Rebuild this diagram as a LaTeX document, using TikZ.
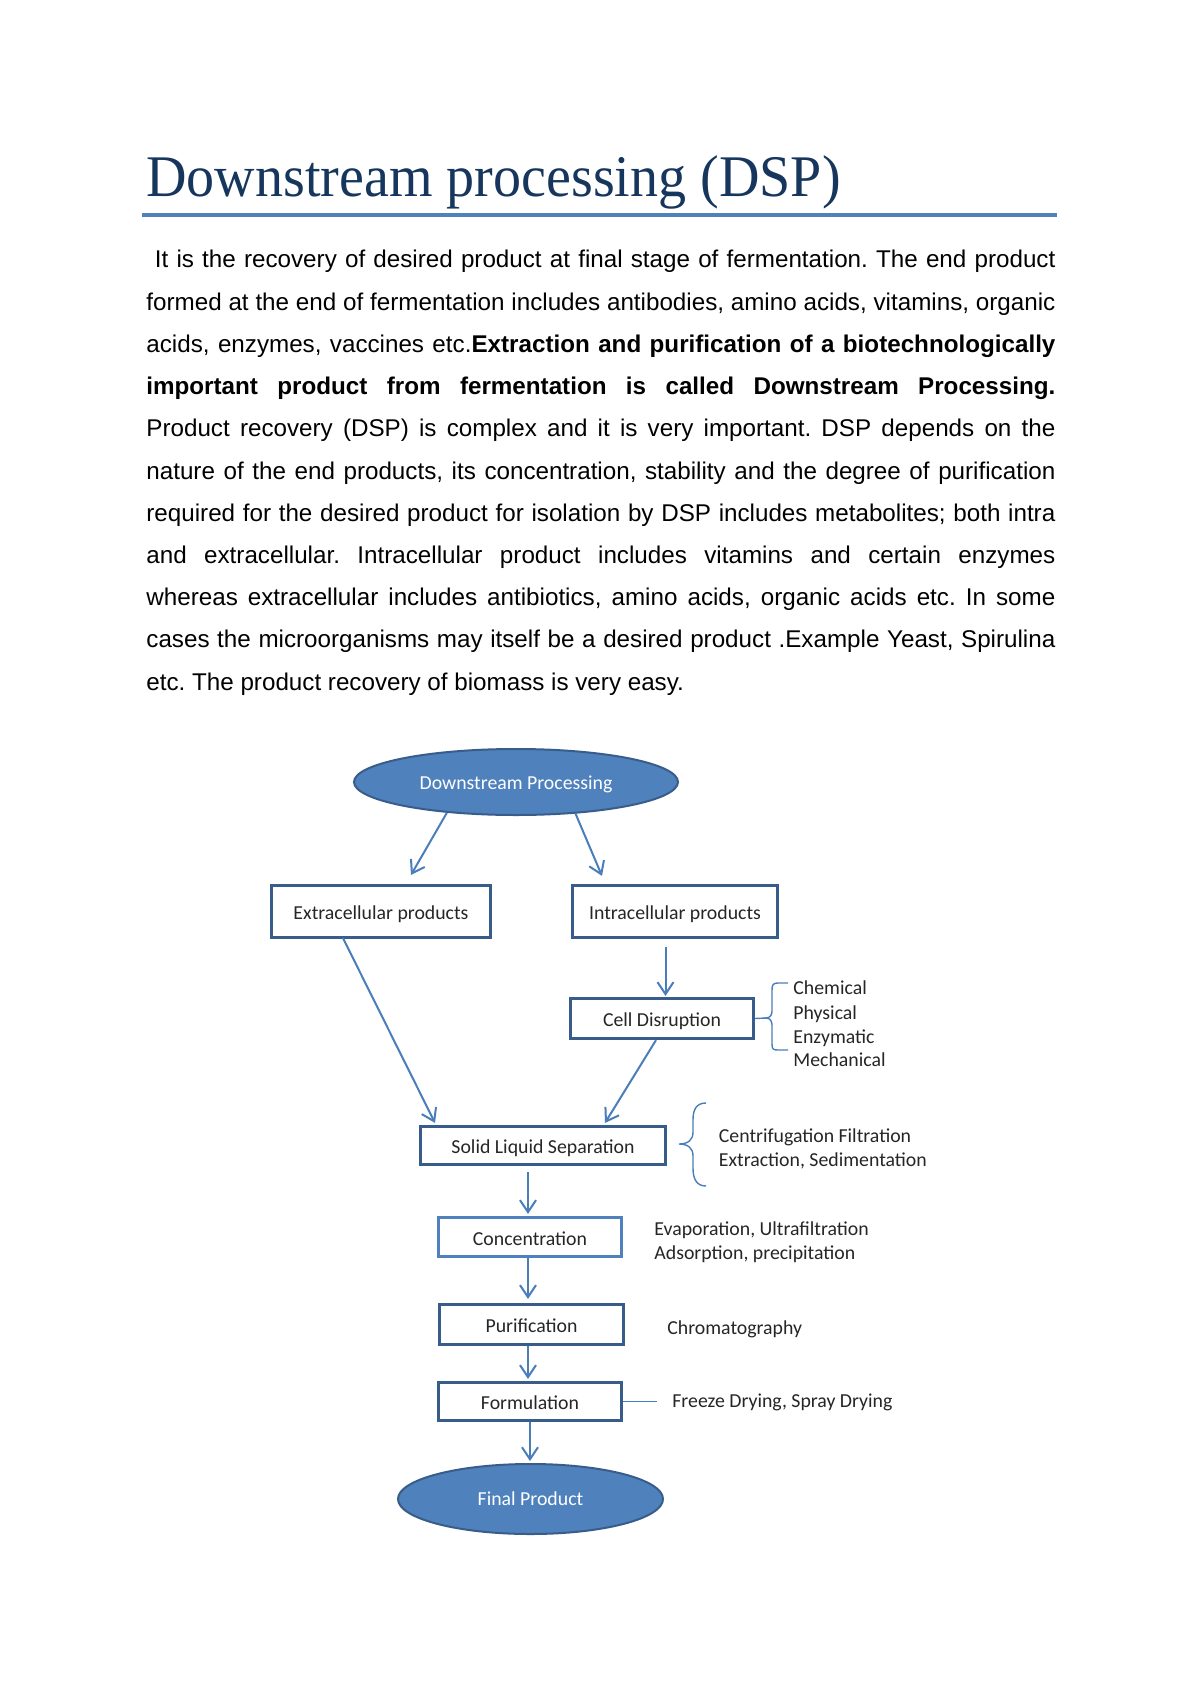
\documentclass[tikz,border=0pt]{standalone}
\usepackage{fontspec}
\usepackage{graphicx}
\setmainfont{Liberation Sans}
\newfontfamily\diagfont{Carlito}
\newfontfamily\headfont{Liberation Serif}
\usetikzlibrary{arrows.meta,calc,shapes.geometric}
\definecolor{headblue}{HTML}{17365D}
\definecolor{accent}{HTML}{4F81BD}
\definecolor{darkedge}{HTML}{385D8A}
\definecolor{conn}{HTML}{4A7EBB}
\definecolor{labelgray}{HTML}{262626}
\frenchspacing
\tikzset{
  para/.style={anchor=base west, inner sep=0pt, font=\fontsize{12.1}{14}\selectfont\frenchspacing},
  boxnode/.style={rectangle, draw=darkedge, line width=1.6pt, fill=white, inner sep=0pt,
    text height=10pt, text depth=2pt,
    font=\diagfont\fontsize{9.9}{12}\selectfont, text=labelgray},
  ovalnode/.style={ellipse, draw=darkedge, line width=1pt, fill=accent, inner sep=0pt,
    text height=9.5pt, text depth=2pt,
    font=\diagfont\fontsize{9.9}{12}\selectfont, text=white},
  arr/.style={draw=conn, line width=1pt, -{Straight Barb[length=6pt,width=8pt]}},
  side/.style={anchor=base west, inner sep=0pt, font=\diagfont\fontsize{9.9}{12}\selectfont, text=labelgray},
  brk/.style={draw=conn, line width=0.7pt}
}
\begin{document}
\begin{tikzpicture}[x=0.5pt,y=-0.5pt]
\fill[white] (0,0) rectangle (1200,1696);
\useasboundingbox (0,0) rectangle (1200,1696);

% heading
\node[anchor=base west, inner sep=0pt, text=headblue, font=\headfont\fontsize{29.5}{30}\selectfont] (title) at (146,197) {\scalebox{0.95}[1]{Downstream processing (DSP)}};
\draw[accent, line width=2pt] (142,215) -- (1057,215);

% paragraph
\node[para] (l1) at (154.5,268) {\makebox[450.25pt][s]{It is the recovery of desired product at final stage of fermentation. The end product}};
\node[para] (l2) at (146,310.2) {\makebox[454.5pt][s]{formed at the end of fermentation includes antibodies, amino acids, vitamins, organic}};
\node[para] (l3) at (146,352.4) {\makebox[454.5pt][s]{acids, enzymes, vaccines etc.\textbf{Extraction and purification of a biotechnologically}}};
\node[para] (l4) at (146,394.6) {\makebox[454.5pt][s]{\textbf{important product from fermentation is called Downstream Processing.}}};
\node[para] (l5) at (146,436.8) {\makebox[454.5pt][s]{Product recovery (DSP) is complex and it is very important. DSP depends on the}};
\node[para] (l6) at (146,479) {\makebox[454.5pt][s]{nature of the end products, its concentration, stability and the degree of purification}};
\node[para] (l7) at (146,521.2) {\makebox[454.5pt][s]{required for the desired product for isolation by DSP includes metabolites; both intra}};
\node[para] (l8) at (146,563.4) {\makebox[454.5pt][s]{and extracellular. Intracellular product includes vitamins and certain enzymes}};
\node[para] (l9) at (146,605.6) {\makebox[454.5pt][s]{whereas extracellular includes antibiotics, amino acids, organic acids etc. In some}};
\node[para] (l10) at (146,647.8) {\makebox[454.5pt][s]{cases the microorganisms may itself be a desired product .Example Yeast, Spirulina}};
\node[para] (l11) at (146,690) {etc. The product recovery of biomass is very easy.};

% diagram nodes
\node[ovalnode, minimum width=162pt, minimum height=33pt] (top) at (516,782) {Downstream Processing};
\node[boxnode, minimum width=109.5pt, minimum height=26pt] (extra) at (381,911.5) {Extracellular products};
\node[boxnode, minimum width=102.5pt, minimum height=26pt] (intra) at (675,911.5) {Intracellular products};
\node[boxnode, minimum width=91.5pt, minimum height=20pt] (cell) at (662,1018.5) {Cell Disruption};
\node[boxnode, minimum width=122.5pt, minimum height=19pt] (solid) at (543,1145.5) {Solid Liquid Separation};
\node[boxnode, draw=accent, minimum width=91.5pt, minimum height=19.5pt] (conc) at (530,1237) {Concentration};
\node[boxnode, minimum width=92pt, minimum height=20pt] (puri) at (531.5,1324.5) {Purification};
\node[boxnode, minimum width=91.5pt, minimum height=19pt] (form) at (530,1401.5) {Formulation};
\node[ovalnode, text height=8pt, minimum width=132.5pt, minimum height=35pt] (final) at (530.5,1499) {Final Product};

% connectors
\draw[arr] (top.204) -- ($(extra.north)+(30,-9)$);
\draw[arr] (top.332) -- ($(intra.north)+(-73,-8)$);
\draw[arr] ($(intra.south)+(-9.5,8)$) -- ($(cell.north)+(3.5,-1)$);
\draw[arr] ($(extra.south)+(-38,-1)$) -- ($(solid.north)+(-108,-2)$);
\draw[arr] ($(cell.south)+(-6,0)$) -- ($(solid.north)+(62,-2)$);
\draw[arr] ($(solid.south)+(-15,6)$) -- ($(conc.north)+(-2,-2)$);
\draw[arr] ($(conc.south)+(-2,0)$) -- ($(puri.north)+(-3.5,-4)$);
\draw[arr] ($(puri.south)+(-3.5,0)$) -- ($(form.north)+(-2,-2)$);
\draw[arr] (form.south) -- ($(final.north)+(-0.5,-2)$);

% cell disruption bracket
\coordinate (cbp) at (766,1018);
\draw[brk] (cell.east) -- (cbp);
\draw[brk] (788,983) -- (778,983) .. controls (773,983) and (772,985) .. (772,990) -- (772,1011)
  .. controls (772,1015) and (770,1018) .. (cbp) .. controls (770,1018) and (772,1021) .. (772,1025)
  -- (772,1044) .. controls (772,1049) and (773,1050) .. (778,1050) -- (788,1050);
\node[side] (chem) at (793,994) {Chemical};
\node[side] (phys) at (793,1019) {Physical};
\node[side] (enzy) at (793,1043) {Enzymatic};
\node[side] (mech) at (793,1066) {Mechanical};

% solid liquid brace
\draw[brk] (706,1103) .. controls (696,1103) and (693,1110) .. (693,1120) -- (693,1132)
  .. controls (693,1140) and (688,1144) .. (679,1144) .. controls (688,1144) and (693,1148) .. (693,1156)
  -- (693,1168) .. controls (693,1178) and (696,1186) .. (706,1186);
\node[side] (cf) at (718.5,1142) {Centrifugation Filtration};
\node[side] (es) at (718.5,1166) {Extraction, Sedimentation};

\node[side] (eu) at (654,1235) {Evaporation, Ultrafiltration};
\node[side] (ap) at (654,1259) {Adsorption, precipitation};
\node[side] (chrom) at (667,1334) {Chromatography};

\coordinate (fline) at (657,1401.5);
\draw[brk] (form.east) -- (fline);
\node[side] (fd) at (672,1407) {Freeze Drying, Spray Drying};
\end{tikzpicture}
\end{document}
